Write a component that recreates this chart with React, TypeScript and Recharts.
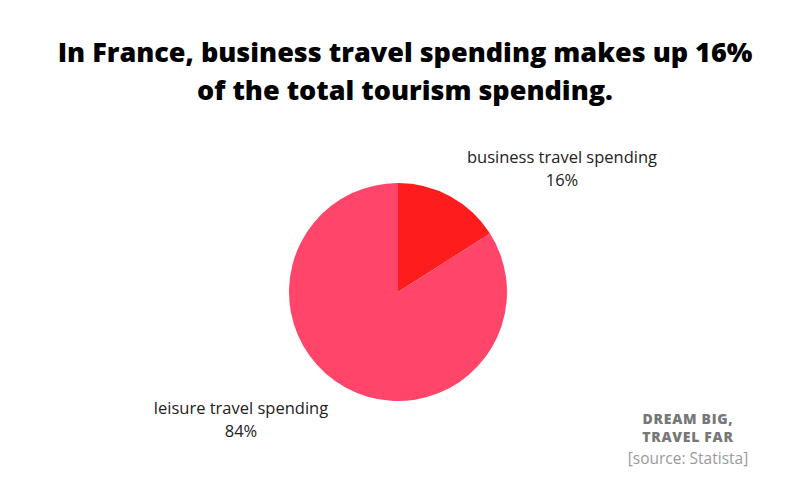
import { PieChart, Pie, Cell } from "recharts";

const categories = ["business travel spending", "leisure travel spending"];
const shares = [16, 84];
const colors = ["#FF1C1C", "#FF4569"];

const data = categories.map((name, i) => ({ name, value: shares[i] }));

// label placement relative to pie centre (reference lays them out by hand)
const labelOffsets = [
  { dx: 164, dy: -129 },
  { dx: -157, dy: 122 },
];

const renderLabel = (props: any) => {
  const { cx, cy, index, name, value } = props;
  const off = labelOffsets[index];
  const x = cx + off.dx;
  const y = cy + off.dy;
  return (
    <text
      x={x}
      y={y}
      textAnchor="middle"
      fill="#222"
      fontFamily="'Open Sans', sans-serif"
      fontSize={16.5}
    >
      <tspan x={x} dy={0}>
        {name}
      </tspan>
      <tspan x={x} dy={22.5}>
        {value}%
      </tspan>
    </text>
  );
};

export default function App() {
  return (
    <div
      style={{
        position: "absolute",
        left: 0,
        top: 0,
        width: 800,
        height: 500,
        background: "#fff",
        overflow: "hidden",
      }}
    >
      <div
        style={{
          position: "absolute",
          left: 0,
          top: 33,
          width: 810,
          textAlign: "center",
          fontFamily: "'Open Sans', sans-serif",
          fontWeight: 800,
          fontSize: 27,
          lineHeight: "38px",
          color: "#000",
        }}
      >
        In France, business travel spending makes up 16%
        <br />
        of the total tourism spending.
      </div>
      <div style={{ position: "absolute", left: 0, top: 0 }}>
        <PieChart width={800} height={500}>
          <Pie
            data={data}
            dataKey="value"
            nameKey="name"
            cx={393}
            cy={287}
            outerRadius={109}
            startAngle={90}
            endAngle={-270}
            stroke="none"
            label={renderLabel}
            labelLine={false}
            isAnimationActive={false}
          >
            {data.map((_d, i) => (
              <Cell key={`cell-${i}`} fill={colors[i]} />
            ))}
          </Pie>
        </PieChart>
      </div>
      <div
        style={{
          position: "absolute",
          left: 603,
          top: 410,
          width: 170,
          textAlign: "center",
          fontFamily: "'Open Sans', sans-serif",
        }}
      >
        <div
          style={{
            fontWeight: 800,
            fontSize: 14,
            letterSpacing: 0.7,
            lineHeight: "18px",
            color: "#777",
          }}
        >
          DREAM BIG,
          <br />
          TRAVEL FAR
        </div>
        <div style={{ fontSize: 15.5, color: "#9a9a9a", marginTop: 1 }}>
          [source: Statista]
        </div>
      </div>
    </div>
  );
}
